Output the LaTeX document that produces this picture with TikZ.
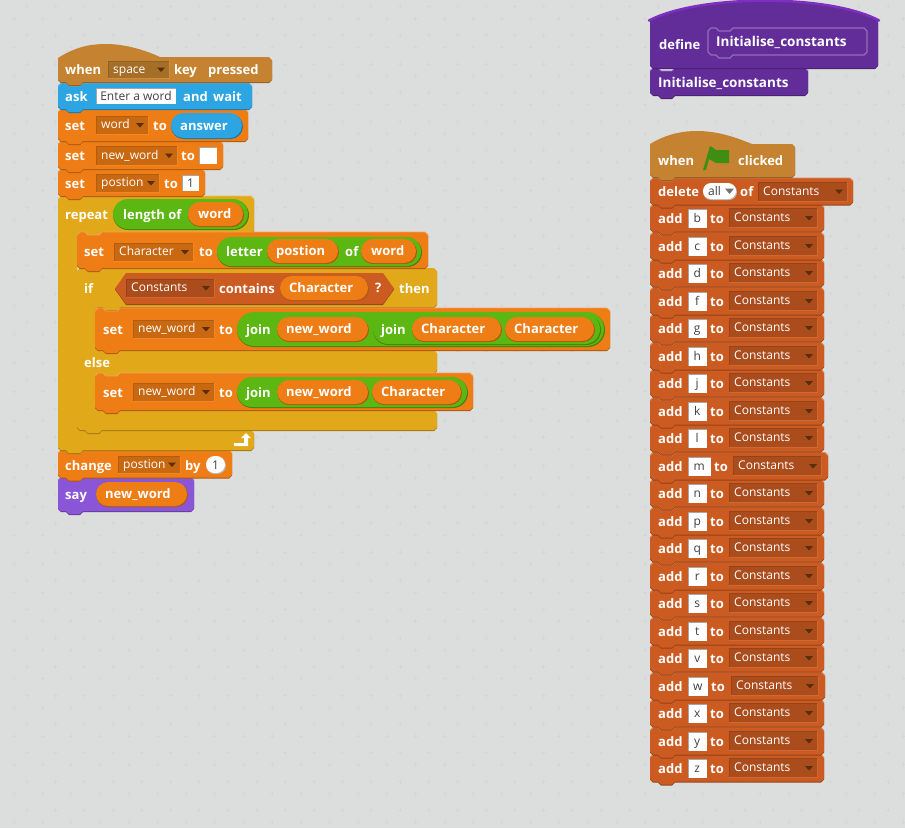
\documentclass[tikz,border=0pt]{standalone}
\usepackage{fontspec}
\setmainfont{Open Sans}
\definecolor{bgc}{HTML}{DCDEDE}
\definecolor{dotc}{HTML}{D5D7D7}
\definecolor{evt}{HTML}{C58331}
\definecolor{sen}{HTML}{2CA5E2}
\definecolor{dat}{HTML}{EE7D16}
\definecolor{lst}{HTML}{CC5B22}
\definecolor{ctl}{HTML}{E1A91A}
\definecolor{opr}{HTML}{5CB712}
\definecolor{loo}{HTML}{8A55D7}
\definecolor{cus}{HTML}{632D99}
\definecolor{tri}{HTML}{5A2E08}
\definecolor{band}{HTML}{7F2FC0}
\definecolor{flagc}{HTML}{3F8E14}
\newcounter{lblc}
\tikzset{
  lbl/.style={anchor=base west,inner sep=0pt,text=white,font=\fontsize{13}{15}\selectfont\bfseries},
  lblw/.style={anchor=base west,inner sep=0pt,text=white,font=\fontsize{13.5}{15}\selectfont\bfseries},
  menu/.style={anchor=base west,inner sep=0pt,text=white,font=\fontsize{12}{14}\selectfont},
  inp/.style={anchor=base west,inner sep=0pt,text=black!75,font=\fontsize{12}{14}\selectfont},
  inpc/.style={anchor=base,inner sep=0pt,text=black!75,font=\fontsize{12}{14}\selectfont}
}
% path fragments
\newcommand\BTop[3]{(#1,{#3+3}) -- ({#1+3},#3) -- ({#1+8},#3) -- ({#1+11},{#3+3}) -- ({#1+22},{#3+3}) -- ({#1+25},#3) -- ({#2-3},#3) -- (#2,{#3+3})}
\newcommand\BBot[3]{-- (#2,{#3-3}) -- ({#2-3},#3) -- ({#1+25},#3) -- ({#1+22},{#3+3}) -- ({#1+11},{#3+3}) -- ({#1+8},#3) -- ({#1+3},#3) -- (#1,{#3-3})}
\newcommand\IBot[3]{-- (#2,{#3-3}) -- ({#2-3},#3) -- ({#1+25},#3) -- ({#1+22},{#3+3}) -- ({#1+11},{#3+3}) -- ({#1+8},#3) -- ({#1+3},#3) -- (#1,{#3+3})}
\newcommand\ITop[3]{-- (#1,{#3-3}) -- ({#1+3},#3) -- ({#2-3},#3) -- (#2,{#3+3})}
% shape with bottom shadow
\newcommand\Shp[2]{\fill[#1!72!black,yshift=-1pt] #2; \fill[#1] #2;}
\newcommand\Blk[5]{\Shp{#5}{\BTop{#1}{#3}{#2} \BBot{#1}{#3}{#4} -- cycle}
  \draw[#5!72!white,line width=.8pt] \BTop{#1}{#3}{#2};}
\newcommand\Pill[5]{\pgfmathsetmacro\pr{(#4-#2)/2}
  \fill[#5!72!black,rounded corners=\pr pt] (#1,{#2+1}) rectangle (#3,{#4+1});
  \fill[#5,rounded corners=\pr pt] (#1,#2) rectangle ({#3-1},#4);}
\newcommand\Lb[3]{\stepcounter{lblc}\node[lbl] (t\thelblc) at (#1,{#2+5}) {#3};}
\newcommand\Lw[3]{\stepcounter{lblc}\node[lblw] (t\thelblc) at (#1,{#2+5}) {#3};}
\newcommand\Drop[6]{\fill[#5!84!black] (#1,#2) rectangle (#3,#4);
  \draw[#5!74!black,line width=.6pt] (#1,#4) -- (#1,#2) -- (#3,#2);
  \draw[#5!92!white,line width=.6pt] (#1,#4) -- (#3,#4) -- (#3,#2);
  \fill[tri] ({#3-12},{(#2+#4)/2-2}) -- ({#3-4},{(#2+#4)/2-2}) -- ({#3-8},{(#2+#4)/2+2.5}) -- cycle;
  \stepcounter{lblc}\node[menu] (t\thelblc) at ({#1+5},{(#2+#4)/2+3.5}) {#6};}
\newcommand\InBox[5]{\fill[white] (#1,#2) rectangle (#3,#4);
  \draw[black!35,line width=.5pt] (#1,#4) -- (#1,#2) -- (#3,#2);
  \stepcounter{lblc}\node[inpc] (t\thelblc) at ({(#1+#3)/2},{(#2+#4)/2+4}) {#5};}
\newcommand\AddBlk[6]{% cy, letter, to-x, drop x1, drop x2, right
  \Blk{650}{#1-13.5}{#6}{#1+13.5}{lst}
  \Lb{658}{#1}{add}
  \InBox{688}{#1-9}{#3-3.5}{#1+9.5}{#2}
  \Lb{#3}{#1}{to}
  \Drop{#4}{#1-9.5}{#5}{#1+9.5}{lst}{Constants}}
\begin{document}
\begin{tikzpicture}[x=1pt,y=-1pt]
\useasboundingbox (0,0) rectangle (905,828);
\clip (0,0) rectangle (905,828);
\fill[bgc] (0,0) rectangle (905,828);
% workspace grid
\foreach \r in {0,...,28}{\foreach \c in {0,...,31}{
  \pgfmathsetmacro\ya{6.7+28.7*\r}\pgfmathsetmacro\xa{-1.7+28.7*\c}
  \pgfmathsetmacro\yb{18.7+28.7*\r}\pgfmathsetmacro\xb{14+28.7*\c}
  \draw[dotc,line width=1pt] ({\xa-2},\ya) -- ({\xa+2},\ya) ({\xa},{\ya-2}) -- ({\xa},{\ya+2});
  \draw[dotc,line width=1pt] ({\xb-2},\yb) -- ({\xb+2},\yb) ({\xb},{\yb-2}) -- ({\xb},{\yb+2});
}}
%%%%% left script (bottom up)
\Blk{58}{477}{194}{511}{loo}
\Lb{65}{494}{say}
\Pill{96}{482}{188}{506}{dat}
\Lb{105}{493.5}{new\_word}
\Blk{58}{450}{232}{477.5}{dat}
\Lb{65}{465}{change}
\Drop{118}{456}{180}{473}{dat}{postion}
\Lb{185}{465}{by}
\Pill{206}{456}{226}{473}{white}
\node[inpc] (n1) at (215.5,469) {1};
% repeat
\Shp{ctl}{\BTop{58}{254}{196} \IBot{77}{254}{233} -- (77,427) -- (80,430) -- (251,430) -- (254,433) \BBot{58}{254}{450} -- cycle}
\draw[ctl!72!white,line width=.8pt] \BTop{58}{254}{196};
\Lb{65}{214}{repeat}
\Pill{113}{199}{249}{229}{opr}
\Lb{123}{214}{length of}
\Pill{188}{202}{244}{226}{dat}
\Lb{198}{213.5}{word}
\fill[white] (234,443) -- (244,443) -- (244,438) -- (241,438) -- (246,433) -- (251,438) -- (248,438) -- (248,446) -- (234,446) -- cycle;
% if / else
\Shp{ctl}{\BTop{77}{437}{268} \IBot{95}{437}{307} \ITop{95}{437}{350} \IBot{95}{437}{373} \ITop{95}{437}{410} \BBot{77}{437}{430} -- cycle}
\Lb{84}{288}{if}
\fill[lst!72!black,yshift=-1pt] (115,288.5) -- (126,273) -- (383,273) -- (394,288.5) -- (383,304) -- (126,304) -- cycle;
\fill[lst] (115,288.5) -- (126,273) -- (383,273) -- (394,288.5) -- (383,304) -- (126,304) -- cycle;
\Drop{126}{279}{214}{297}{lst}{Constants}
\Lb{219}{288}{contains}
\Pill{280}{276}{369}{300}{dat}
\Lb{289}{287.5}{Character}
\Lb{375}{287.5}{?}
\Lb{399}{288}{then}
\Lb{84}{362}{else}
% set new_word (2)
\Blk{95}{373}{473}{410}{dat}
\Lb{103}{392}{set}
\Drop{133}{383}{214}{401}{dat}{new\_word}
\Lb{219}{392}{to}
\Pill{237}{377}{468}{407}{opr}
\Lb{246}{392}{join}
\Pill{277}{380}{369}{404}{dat}
\Lb{286}{391.5}{new\_word}
\Pill{372}{380}{462}{404}{dat}
\Lb{381}{391.5}{Character}
% set new_word (1)
\Blk{95}{308}{610}{350}{dat}
\Lb{103}{329}{set}
\Drop{133}{320}{214}{338}{dat}{new\_word}
\Lb{219}{329}{to}
\Pill{237}{312}{605}{346}{opr}
\Lb{246}{329}{join}
\Pill{277}{317}{369}{341}{dat}
\Lb{286}{328.5}{new\_word}
\Pill{373}{314}{601}{344}{opr}
\Lb{381}{329}{join}
\Pill{412}{317}{502}{341}{dat}
\Lb{421}{328.5}{Character}
\Pill{505}{317}{595}{341}{dat}
\Lb{514}{328.5}{Character}
% set Character
\Blk{77}{232}{428}{268}{dat}
\Lb{84}{251}{set}
\Drop{114}{243}{193}{261}{dat}{Character}
\Lb{199}{251}{to}
\Pill{217}{237}{422}{266}{opr}
\Lb{226}{251.5}{letter}
\Pill{267}{239}{339}{263}{dat}
\Lb{276}{250.5}{postion}
\Lb{345}{251.5}{of}
\Pill{361}{239}{417}{263}{dat}
\Lb{371}{250.5}{word}
% upper stack
\Blk{58}{169}{205}{196}{dat}
\Lb{65}{183}{set}
\Drop{96}{174}{159}{192}{dat}{postion}
\Lb{164}{183}{to}
\InBox{182}{175}{199}{191}{1}
\Blk{58}{141}{223}{169}{dat}
\Lb{65}{155}{set}
\Drop{96}{146}{177}{165}{dat}{new\_word}
\Lb{181}{155}{to}
\InBox{199}{147}{217}{164}{}
\Blk{58}{109}{248}{141}{dat}
\Lb{65}{125}{set}
\Drop{96}{116}{148}{134}{dat}{word}
\Lb{153}{125}{to}
\Pill{171}{113}{243}{138}{sen}
\Lb{180}{125}{answer}
\Blk{58}{83}{252}{109}{sen}
\Lb{65}{96}{ask}
\InBox{96}{88}{176}{104}{Enter a word}
\Lb{183}{96}{and}
\Lb{213}{96}{wait}
% hat
\Shp{evt}{(58,58) .. controls (75,47) and (90,44) .. (106,44) .. controls (125,44) and (145,50) .. (160,57) -- (269,57) -- (272,60) \BBot{58}{272}{82} -- cycle}
\Lb{65}{69}{when}
\Drop{108}{61}{169}{78}{evt}{space}
\Lb{174}{69}{key}
\Lb{208}{69}{pressed}
%%%%% define
\Blk{650}{68}{808}{95}{cus}
\Lw{658}{82}{Initialise\_constants}
\fill[cus!72!black,yshift=-1pt] (650,22) -- (878,22) -- (878,65) -- (875,68) -- (653,68) -- (650,65) -- cycle;
\fill[cus] (650,20) -- (878,20) -- (878,65) -- (875,68) -- (653,68) -- (650,65) -- cycle;
\fill[cus] (648,21) .. controls (700,-6) and (830,-6) .. (880,21) -- cycle;
\draw[band,line width=2.5pt,line cap=round] (649,20.5) .. controls (700,-6) and (830,-6) .. (879,20.5);
\draw[cus!70!white,line width=1.2pt] \BTop{708}{867}{28} \BBot{708}{867}{55} -- cycle;
\Lw{716}{41}{Initialise\_constants}
\Lb{659}{44}{define}
%%%%% list script (bottom up)
\foreach \cy/\ch/\tox/\da/\db/\rt in {
 768/z/710/729/817/824,741/y/710/729/817/824,713/x/710/729/817/824,686/w/711/731/818/825,
 658/v/710/729/817/824,631/t/710/729/817/824,603/s/710/729/817/824,576/r/710/729/817/824,
 548/q/710/729/817/824,521/p/710/729/817/824,493/n/710/729/817/824,466/m/714/733/821/828,
 438/l/710/729/817/824,411/k/710/729/817/824,383/j/710/729/817/824,356/h/710/729/817/824,
 328/g/710/729/817/824,301/f/710/729/817/824,273/d/710/729/817/824,246/c/710/729/817/824,
 218/b/710/729/817/824}{
  \AddBlk{\cy}{\ch}{\tox}{\da}{\db}{\rt}
}
\Blk{650}{178}{853}{204.5}{lst}
\Lb{658}{191}{delete}
\Pill{703}{183}{737}{199}{white}
\node[inp] (allm) at (708,195.5) {all};
\fill[black!55] (725,188.5) -- (734,188.5) -- (729.5,194) -- cycle;
\Lb{740}{191}{of}
\Drop{758}{182}{847}{201}{lst}{Constants}
\Shp{evt}{(650,144) .. controls (665,135) and (680,131) .. (697,131) .. controls (717,131) and (735,137) .. (752,144) -- (792,144) -- (795,147) \BBot{650}{795}{177} -- cycle}
\Lb{658}{160}{when}
\fill[flagc] (703,170) -- (710,146) -- (712,147) -- (716,150) -- (729,150) -- (729,163) -- (716,163) -- (709,159) -- (706,170) -- cycle;
\Lb{738}{160}{clicked}
\end{tikzpicture}
\end{document}
